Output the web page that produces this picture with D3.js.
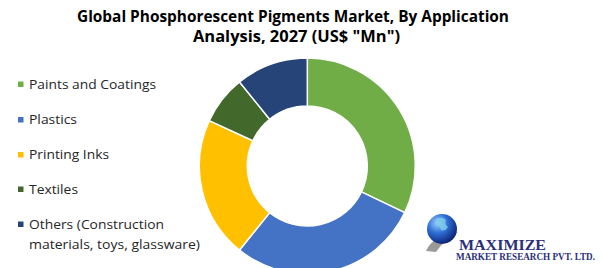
<!DOCTYPE html>
<html>
<head>
<meta charset="utf-8">
<script src="https://cdn.jsdelivr.net/npm/d3@7"></script>
<style>
  body { margin: 0; background: #fff; }
  svg { display: block; }
</style>
</head>
<body>
<svg id="viz" width="603" height="268"></svg>
<script>
// data (share of 2027 market, %)
const categories = ["Paints and Coatings", "Plastics", "Printing Inks", "Textiles", "Others (Construction materials, toys, glassware)"]
const values = [32.1, 28.7, 21.1, 7.3, 10.8]
const colors = ["#70AD47", "#4472C4", "#FFC000", "#43682B", "#264478"]
const legendLines = [["Paints and Coatings"], ["Plastics"], ["Printing Inks"], ["Textiles"], ["Others (Construction", "materials, toys, glassware)"]]
const titleLines = ["Global Phosphorescent Pigments Market, By Application", "Analysis, 2027 (US$ \"Mn\")"]

var svg = d3.select("svg#viz")
const width = +svg.attr('width')
const height = +svg.attr('height')

// title
const titleW = [432, 207]
const titleX = [293, 296.5]
const titleY = [22, 42]
svg.selectAll("text.title").data(titleLines)
  .join("text")
  .attr("class", "title")
  .attr("x", (d, i) => titleX[i])
  .attr("y", (d, i) => titleY[i])
  .attr("text-anchor", "middle")
  .attr("font-family", "'Open Sans', sans-serif")
  .attr("font-weight", "bold")
  .attr("font-size", 15.5)
  .attr("fill", "#000")
  .attr("textLength", (d, i) => titleW[i])
  .attr("lengthAdjust", "spacingAndGlyphs")
  .text(d => d)

// donut
const cx = 307.3, cy = 166
const pie = d3.pie().sort(null).value(d => d)
const arc = d3.arc().innerRadius(60).outerRadius(108)
const donut = svg.append('g').attr("transform", `translate(${cx}, ${cy})`)
donut.selectAll("path.slice").data(pie(values))
  .join("path")
  .attr("class", "slice")
  .attr("d", arc)
  .attr("fill", (d, i) => colors[i])
  .attr("stroke", "#fff")
  .attr("stroke-width", 1.5)

// legend
const rowY = [84, 119.5, 154.5, 189, 224]
const lineW = [[127], [48], [80], [49], [135, 171]]
const legend = svg.append('g').attr("class", "legend")
const items = legend.selectAll("g.item").data(categories)
  .join("g")
  .attr("class", "item")
  .attr("transform", (d, i) => `translate(18, ${rowY[i]})`)
items.append("rect")
  .attr("x", 0).attr("y", -2.5)
  .attr("width", 5.5).attr("height", 5.5)
  .attr("fill", (d, i) => colors[i])
items.each(function(d, i) {
  legendLines[i].forEach((line, j) => {
    d3.select(this).append("text")
      .attr("x", 11).attr("y", 4.5 + j * 20)
      .attr("font-family", "'Open Sans', sans-serif")
      .attr("font-size", 13)
      .attr("fill", "#262626")
      .attr("textLength", lineW[i][j])
      .attr("lengthAdjust", "spacingAndGlyphs")
      .text(line)
  })
})

// logo
const logo = svg.append('g').attr("class", "logo")
const defs = svg.append("defs")
const grad = defs.append("radialGradient").attr("id", "globe").attr("cx", "35%").attr("cy", "30%").attr("r", "75%")
grad.append("stop").attr("offset", "0%").attr("stop-color", "#9fd0ff")
grad.append("stop").attr("offset", "45%").attr("stop-color", "#2f6fd6")
grad.append("stop").attr("offset", "100%").attr("stop-color", "#0b1f6e")
logo.append("path")
  .attr("d", "M426,251 Q432,236 458,232 Q444,240 436,252 Z")
  .attr("fill", "#9a9a9a")
logo.append("circle").attr("cx", 442).attr("cy", 229).attr("r", 15).attr("fill", "url(#globe)")
logo.append("path")
  .attr("d", "M436,219 q6,-3 10,1 q-2,4 2,7 q-3,5 -7,3 q-1,-4 -5,-5 z")
  .attr("fill", "#7fd0e8").attr("opacity", 0.8)
logo.append("text")
  .attr("x", 459).attr("y", 250)
  .attr("font-family", "'Liberation Serif', serif")
  .attr("font-weight", "bold")
  .attr("font-size", 15.5)
  .attr("fill", "#2a2f7a")
  .attr("textLength", 87).attr("lengthAdjust", "spacingAndGlyphs")
  .text("MAXIMIZE")
logo.append("text")
  .attr("x", 456).attr("y", 259.5)
  .attr("font-family", "'Liberation Serif', serif")
  .attr("font-weight", "bold")
  .attr("font-size", 9.5)
  .attr("fill", "#2a2f7a")
  .attr("textLength", 139).attr("lengthAdjust", "spacingAndGlyphs")
  .text("MARKET RESEARCH PVT. LTD.")
</script>
</body>
</html>
